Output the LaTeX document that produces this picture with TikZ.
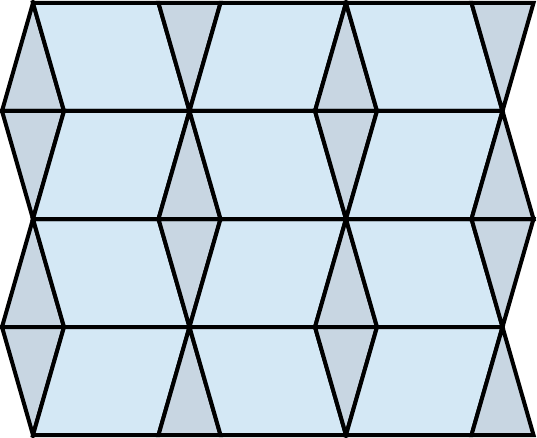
\documentclass[tikz,border=0pt]{standalone}
\usepackage{tikz}
\definecolor{paraBlue}{RGB}{212,232,245}
\definecolor{triGray}{RGB}{200,214,226}

\begin{document}
\begin{tikzpicture}[
  x=1pt, y=-1pt,
  line width=4pt,
  line join=miter,
  para/.style={draw=black, fill=paraBlue},
  tri/.style={draw=black, fill=triGray},
]
\useasboundingbox (0,0) rectangle (537,438);

% --- rows starting with an upward triangle ---
\foreach \t in {3,219}{
  \pgfmathsetmacro{\b}{\t+108}
  \draw[tri]  (33,\t) -- (64,\b) -- (2,\b) -- cycle;
  \draw[para] (33,\t) -- (158.5,\t) -- (189.5,\b) -- (64,\b) -- cycle;
  \draw[tri]  (158.5,\t) -- (220.5,\t) -- (189.5,\b) -- cycle;
  \draw[para] (220.5,\t) -- (346,\t) -- (315,\b) -- (189.5,\b) -- cycle;
  \draw[tri]  (346,\t) -- (377,\b) -- (315,\b) -- cycle;
  \draw[para] (346,\t) -- (471.5,\t) -- (502.5,\b) -- (377,\b) -- cycle;
  \draw[tri]  (471.5,\t) -- (533.5,\t) -- (502.5,\b) -- cycle;
}

% --- rows starting with a downward triangle ---
\foreach \t in {111,327}{
  \pgfmathsetmacro{\b}{\t+108}
  \draw[tri]  (2,\t) -- (64,\t) -- (33,\b) -- cycle;
  \draw[para] (64,\t) -- (189.5,\t) -- (158.5,\b) -- (33,\b) -- cycle;
  \draw[tri]  (189.5,\t) -- (220.5,\b) -- (158.5,\b) -- cycle;
  \draw[para] (189.5,\t) -- (315,\t) -- (346,\b) -- (220.5,\b) -- cycle;
  \draw[tri]  (315,\t) -- (377,\t) -- (346,\b) -- cycle;
  \draw[para] (377,\t) -- (502.5,\t) -- (471.5,\b) -- (346,\b) -- cycle;
  \draw[tri]  (502.5,\t) -- (533.5,\b) -- (471.5,\b) -- cycle;
}

\end{tikzpicture}
\end{document}
